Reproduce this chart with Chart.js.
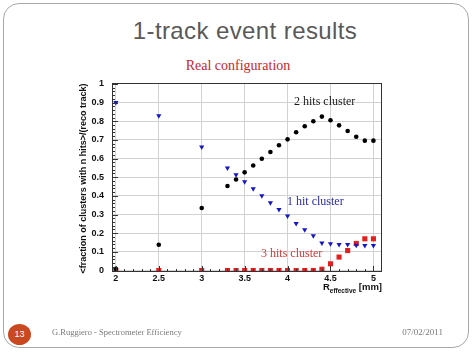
<!DOCTYPE html>
<html>
<head>
<meta charset="utf-8">
<script src="https://cdn.jsdelivr.net/npm/chart.js@4.4.1/dist/chart.umd.min.js"></script>
<style>
  body { margin: 0; background: #fff; }
  #slide { position: relative; width: 474px; height: 355px; overflow: hidden; background: #fff; }
  #border { position: absolute; left: 3px; top: 3px; width: 464px; height: 343px; border: 1px solid #a8a8a8; border-radius: 16px; }
  #title { position: absolute; left: 0; width: 490px; top: 17px; text-align: center; font-family: "Liberation Sans", sans-serif; font-size: 24px; letter-spacing: 0.4px; color: #595959; }
  #subtitle { position: absolute; left: 0; width: 476px; top: 58px; text-align: center; font-family: "Liberation Serif", serif; font-size: 14px; color: #c4262e; }
  #badge { position: absolute; left: 8px; top: 324px; width: 23px; height: 21px; border-radius: 50%; background: #c9481f; color: #fff; font-family: "Liberation Sans", sans-serif; font-size: 9px; line-height: 21px; text-align: center; }
  #footer { position: absolute; left: 52px; top: 327px; font-family: "Liberation Serif", serif; font-size: 8.5px; color: #7a7a7a; }
  #date { position: absolute; right: 31px; top: 327px; font-family: "Liberation Serif", serif; font-size: 9px; color: #7a7a7a; }
  canvas { position: absolute; left: 0; top: 0; }
</style>
</head>
<body>
<div id="slide">
  <div id="border"></div>
  <div id="title">1-track event results</div>
  <div id="subtitle">Real configuration</div>
  <canvas id="plot" width="474" height="355"></canvas>
  <div id="badge">13</div>
  <div id="footer">G.Ruggiero - Spectrometer Efficiency</div>
  <div id="date">07/02/2011</div>
</div>
<script>
// R_effective [mm] values of the scan
const rEff = [2, 2.5, 3, 3.3, 3.4, 3.5, 3.6, 3.7, 3.8, 3.9, 4.0, 4.1, 4.2, 4.3, 4.4, 4.5, 4.6, 4.7, 4.8, 4.9, 5.0];

// fraction of clusters with n hits per reco track
const oneHit = [0.90, 0.830, 0.662, 0.549, 0.513, 0.476, 0.438, 0.401, 0.363, 0.327, 0.292, 0.252, 0.218, 0.186, 0.148, 0.143, 0.140, 0.140, 0.136, 0.134, 0.134];
const twoHits = [0.009, 0.138, 0.335, 0.453, 0.488, 0.526, 0.563, 0.599, 0.635, 0.671, 0.703, 0.741, 0.773, 0.800, 0.825, 0.805, 0.778, 0.748, 0.717, 0.696, 0.696];
const threeHits = [0, 0, 0, 0, 0, 0, 0, 0, 0, 0, 0, 0, 0, 0, 0.007, 0.036, 0.072, 0.107, 0.145, 0.170, 0.170];

const xTicks = [2, 2.5, 3, 3.5, 4, 4.5, 5];
const yTicks = [0, 0.1, 0.2, 0.3, 0.4, 0.5, 0.6, 0.7, 0.8, 0.9, 1];

const toPoints = vals => vals.map((v, i) => ({ x: rEff[i], y: v }));
const plainLabel = v => String(Number(v.toFixed(2)));

// ROOT-style frame: inner ticks, full box, axis titles and labels
const rootFrame = {
    id: 'rootFrame',
    afterDraw(chart) {
        const { ctx, chartArea: a, scales: { x, y } } = chart;
        ctx.save();
        ctx.strokeStyle = '#333';
        ctx.lineWidth = 1;
        ctx.strokeRect(a.left + 0.5, a.top + 0.5, a.right - a.left - 1, a.bottom - a.top - 1);

        ctx.beginPath();
        for (let i = 0; i <= 50; i++) {
            const v = i * 0.02;
            const py = Math.round(y.getPixelForValue(v)) + 0.5;
            const len = i % 5 === 0 ? 6 : 3;
            ctx.moveTo(a.left, py);
            ctx.lineTo(a.left + len, py);
        }
        for (let i = 20; i <= 51; i++) {
            const v = i * 0.1;
            if (v > x.max) break;
            const px = Math.round(x.getPixelForValue(v)) + 0.5;
            const len = i % 5 === 0 ? 6 : 3;
            ctx.moveTo(px, a.bottom);
            ctx.lineTo(px, a.bottom - len);
        }
        ctx.stroke();

        // y axis title
        ctx.fillStyle = '#111';
        ctx.font = 'bold 9px "Liberation Sans", sans-serif';
        ctx.textAlign = 'center';
        ctx.textBaseline = 'middle';
        ctx.translate(84, (a.top + a.bottom) / 2 + 1);
        ctx.rotate(-Math.PI / 2);
        ctx.fillText('<fraction of clusters with n hits>/(reco track)', 0, 0);
        ctx.setTransform(1, 0, 0, 1, 0, 0);

        // x axis title: R_effective [mm]
        ctx.textAlign = 'left';
        ctx.textBaseline = 'alphabetic';
        const big = 'bold 9.5px "Liberation Sans", sans-serif';
        const small = 'bold 6.5px "Liberation Sans", sans-serif';
        ctx.font = big;
        const wR = ctx.measureText('R').width;
        const wMm = ctx.measureText(' [mm]').width;
        ctx.font = small;
        const wSub = ctx.measureText('effective').width;
        let px = a.right - (wR + wSub + wMm);
        const base = 290;
        ctx.font = big;
        ctx.fillText('R', px, base);
        px += wR;
        ctx.font = small;
        ctx.fillText('effective', px, base + 2.5);
        px += wSub;
        ctx.font = big;
        ctx.fillText(' [mm]', px, base);

        // curve labels
        ctx.font = '12px "Liberation Serif", serif';
        ctx.textBaseline = 'middle';
        ctx.fillStyle = '#1a1a1a';
        ctx.fillText('2 hits cluster', 294, 102);
        ctx.fillStyle = '#2b2ba8';
        ctx.fillText('1 hit cluster', 287, 202);
        ctx.fillStyle = '#d23a3a';
        ctx.fillText('3 hits cluster', 261, 254);
        ctx.restore();
    }
};

new Chart(document.getElementById('plot').getContext('2d'), {
    type: 'scatter',
    data: {
        datasets: [
            {
                label: '2 hits cluster',
                data: toPoints(twoHits),
                pointStyle: 'circle',
                pointRadius: 2.3,
                backgroundColor: '#000',
                borderColor: '#000',
                borderWidth: 0,
                order: 1,
            },
            {
                label: '1 hit cluster',
                data: toPoints(oneHit),
                pointStyle: 'triangle',
                rotation: 180,
                pointRadius: 3,
                backgroundColor: '#1616c8',
                borderColor: '#1616c8',
                borderWidth: 0,
                order: 2,
            },
            {
                label: '3 hits cluster',
                data: toPoints(threeHits),
                pointStyle: 'rect',
                pointRadius: 3.6,
                backgroundColor: '#e41e1e',
                borderColor: '#e41e1e',
                borderWidth: 0,
                order: 3,
            },
        ],
    },
    options: {
        responsive: false,
        animation: false,
        events: [],
        layout: { padding: { left: 0, top: 83, right: 92, bottom: 63 } },
        plugins: {
            legend: { display: false },
            tooltip: { enabled: false },
        },
        scales: {
            x: {
                type: 'linear',
                min: 1.955,
                max: 5.1,
                afterBuildTicks: scale => { scale.ticks = xTicks.map(v => ({ value: v })); },
                afterFit: scale => { scale.height = 20; },
                border: { display: false },
                grid: { color: '#d2d2d2', drawTicks: false },
                ticks: {
                    color: '#111',
                    padding: 1,
                    maxRotation: 0,
                    callback: plainLabel,
                    font: { family: '"Liberation Sans", sans-serif', size: 9, weight: 'bold' },
                },
            },
            y: {
                type: 'linear',
                min: -0.008,
                max: 1.005,
                afterBuildTicks: scale => { scale.ticks = yTicks.map(v => ({ value: v })); },
                afterFit: scale => { scale.width = 112; },
                border: { display: false },
                grid: { color: '#d2d2d2', drawTicks: false },
                ticks: {
                    color: '#111',
                    padding: 8,
                    callback: plainLabel,
                    font: { family: '"Liberation Sans", sans-serif', size: 9, weight: 'bold' },
                },
            },
        },
    },
    plugins: [rootFrame],
});
</script>
</body>
</html>
